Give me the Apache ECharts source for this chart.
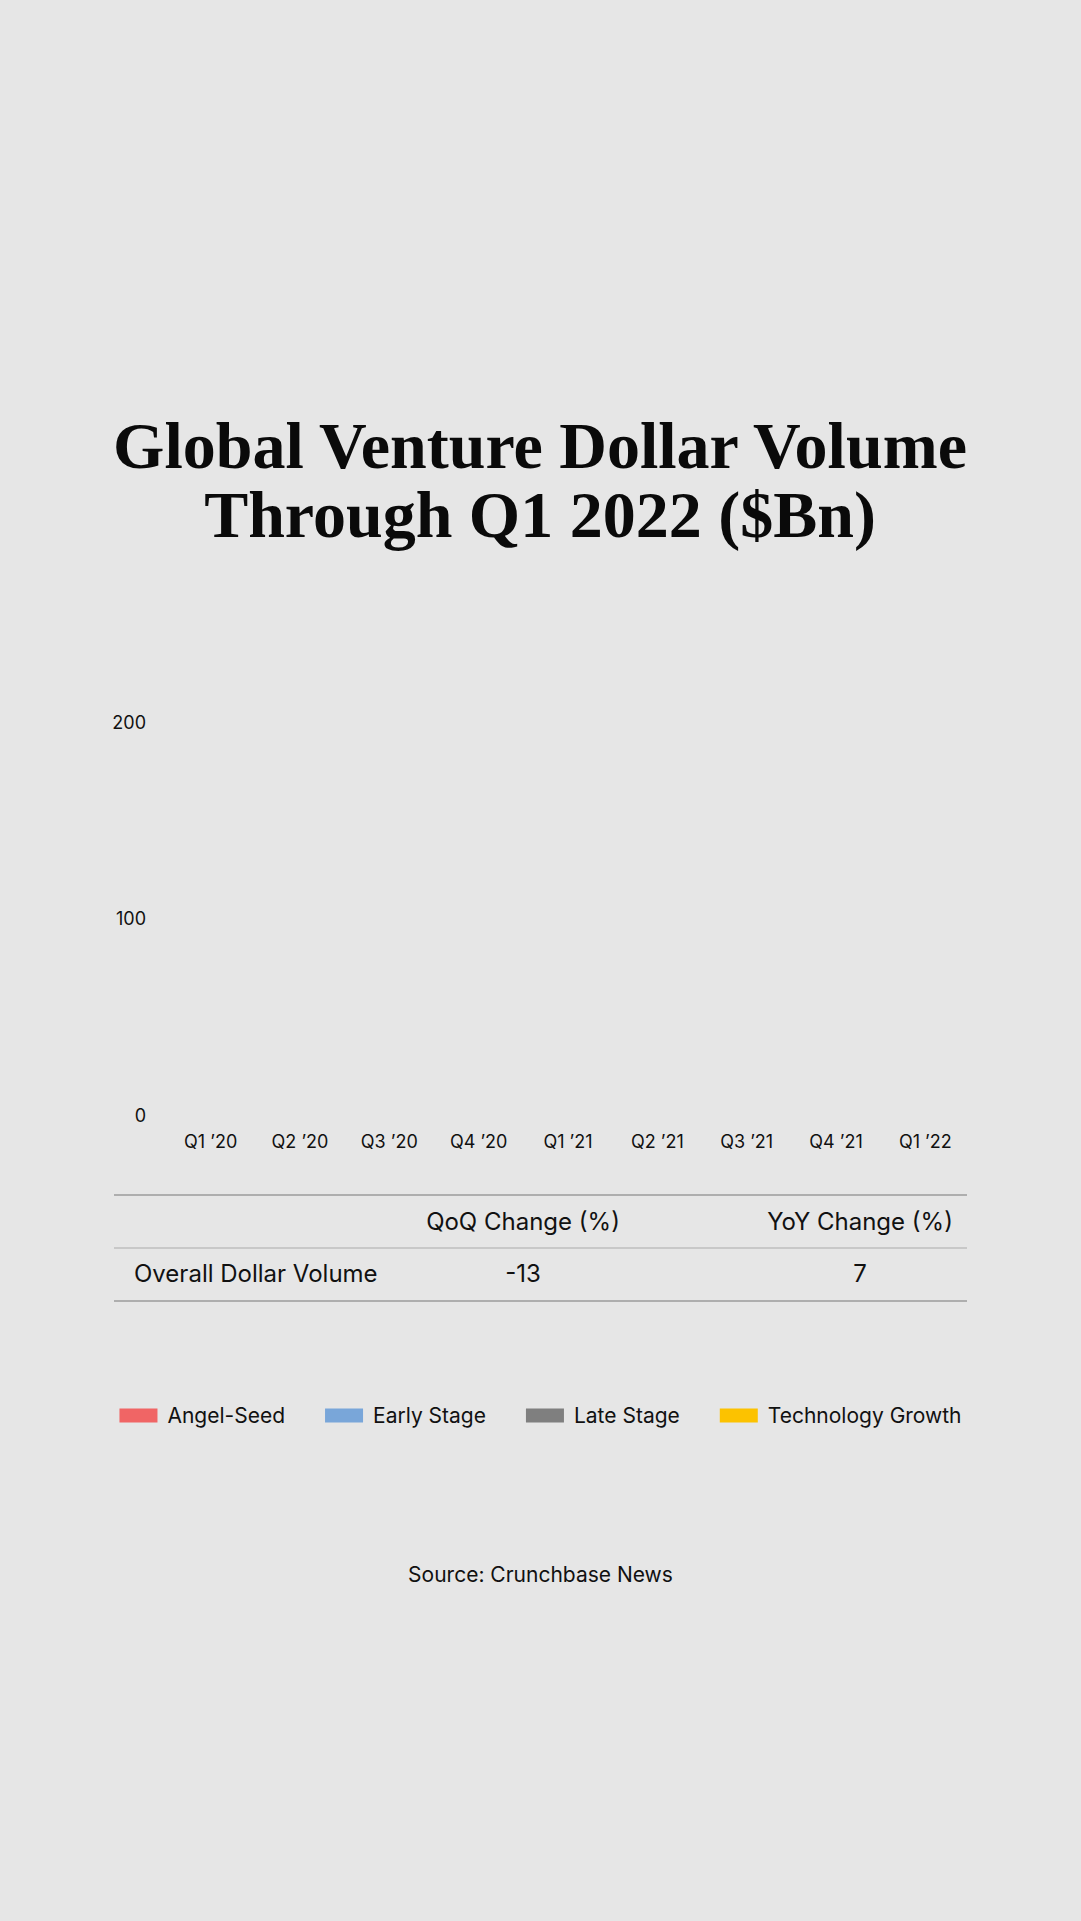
<!DOCTYPE html>
<html>
<head>
<meta charset="utf-8">
<style>
html,body{margin:0;padding:0;background:#e6e6e6;}
#chart{width:1081px;height:1921px;}
</style>
<script src="https://cdn.jsdelivr.net/npm/echarts@6/dist/echarts.min.js"></script>
</head>
<body>
<div id="chart"></div>
<script>
// ---- data ----
const categories = ["Q1 \u201920","Q2 \u201920","Q3 \u201920","Q4 \u201920","Q1 \u201921","Q2 \u201921","Q3 \u201921","Q4 \u201921","Q1 \u201922"];
// No bars are visible in the reference image, so the series carry no values.
const angelSeed = [null,null,null,null,null,null,null,null,null];
const earlyStage = [null,null,null,null,null,null,null,null,null];
const lateStage = [null,null,null,null,null,null,null,null,null];
const techGrowth = [null,null,null,null,null,null,null,null,null];
const seriesNames = ["Angel-Seed","Early Stage","Late Stage","Technology Growth"];
const seriesColors = ["#f06565","#79a6d9","#7f7f7f","#fcc200"];
const yTicks = [0,100,200];
const titleText = "Global Venture Dollar Volume\nThrough Q1 2022 ($Bn)";
const tableHeader = ["", "QoQ Change (%)", "YoY Change (%)"];
const tableRowLabel = "Overall Dollar Volume";
const qoqChange = -13;
const yoyChange = 7;
const sourceText = "Source: Crunchbase News";

const sans = "Inter, 'Noto Sans', sans-serif";
const chart = echarts.init(document.getElementById('chart'), null, {renderer:'svg'});
const values = [angelSeed, earlyStage, lateStage, techGrowth];

const option = {
  backgroundColor: '#e6e6e6',
  animation: false,
  title: [{
    text: sourceText,
    left: 'center',
    top: 1559,
    textStyle: {fontFamily: sans, fontWeight: 'normal', fontSize: 21, color: '#111'}
  }],
  legend: {
    data: seriesNames,
    top: 1400,
    left: 'center',
    icon: 'rect',
    itemWidth: 38,
    itemHeight: 14,
    itemGap: 40,
    textStyle: {fontFamily: sans, fontSize: 21, color: '#111', padding:[0,0,0,5]}
  },
  grid: {left: 166, right: 111, top: 722, bottom: 1921-1115, containLabel: false},
  xAxis: {
    type: 'category',
    data: categories,
    axisLine: {show: false},
    axisTick: {show: false},
    axisLabel: {fontFamily: sans, fontSize: 18, color: '#111', margin: 17}
  },
  yAxis: {
    type: 'value',
    min: 0, max: yTicks[yTicks.length-1], interval: 100,
    axisLine: {show: false},
    axisTick: {show: false},
    splitLine: {show: false},
    axisLabel: {fontFamily: sans, fontSize: 18, color: '#111', margin: 20}
  },
  series: seriesNames.map((n,i) => ({
    name: n, type: 'bar', stack: 'total', data: values[i],
    itemStyle: {color: seriesColors[i]}, barWidth: '60%'
  })),
  graphic: [
    {type:'text', x:540, y:411, style:{text:titleText, fontFamily:"'Liberation Serif', serif", fontWeight:'bold', fontSize:66, lineHeight:69, fill:'#0a0a0a', textAlign:'center', textVerticalAlign:'top'}},
    {type:'line', shape:{x1:114,y1:1195,x2:967,y2:1195}, style:{stroke:'#777',lineWidth:1.2}},
    {type:'line', shape:{x1:114,y1:1248,x2:967,y2:1248}, style:{stroke:'#aaa',lineWidth:1}},
    {type:'line', shape:{x1:114,y1:1301,x2:967,y2:1301}, style:{stroke:'#777',lineWidth:1.2}},
    {type:'text', x:523, y:1221, style:{text:tableHeader[1], fontFamily:sans, fontSize:24, fill:'#111', textAlign:'center', textVerticalAlign:'middle'}},
    {type:'text', x:860, y:1221, style:{text:tableHeader[2], fontFamily:sans, fontSize:24, fill:'#111', textAlign:'center', textVerticalAlign:'middle'}},
    {type:'text', x:134, y:1273, style:{text:tableRowLabel, fontFamily:sans, fontSize:24, fill:'#111', textAlign:'left', textVerticalAlign:'middle'}},
    {type:'text', x:523, y:1273, style:{text:String(qoqChange), fontFamily:sans, fontSize:24, fill:'#111', textAlign:'center', textVerticalAlign:'middle'}},
    {type:'text', x:860, y:1273, style:{text:String(yoyChange), fontFamily:sans, fontSize:24, fill:'#111', textAlign:'center', textVerticalAlign:'middle'}}
  ]
};
chart.setOption(option);
</script>
</body>
</html>
